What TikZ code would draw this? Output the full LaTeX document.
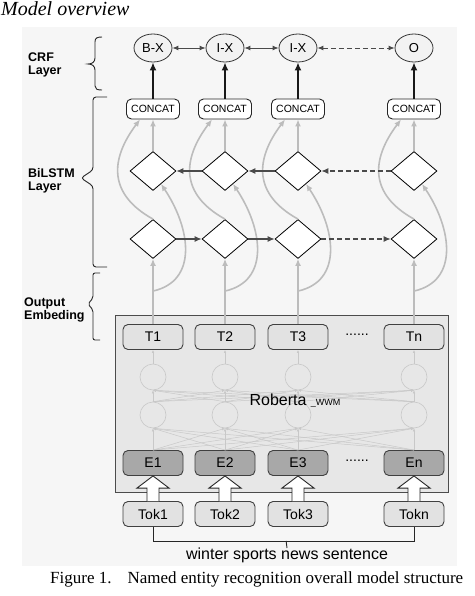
\documentclass[tikz,border=0pt]{standalone}
\usepackage{fontspec}
\setmainfont{Liberation Serif}
\setsansfont{Liberation Sans}
\usetikzlibrary{arrows.meta,shapes.geometric,calc}
\definecolor{bgc}{HTML}{F6F6F6}
\definecolor{robc}{HTML}{E7E7E7}
\definecolor{eboxc}{HTML}{A8A8A8}
\definecolor{tboxc}{HTML}{E2E2E2}
\definecolor{garr}{HTML}{BCBCBC}
\definecolor{darr}{HTML}{4A4A4A}
\definecolor{netc}{HTML}{C8C8C8}
\tikzset{
 fs/.style={font=\sffamily\fontsize{#1}{#1}\selectfont},
 crfnode/.style={ellipse, draw=black!80, fill=black!5, line width=0.8pt, minimum width=38pt, minimum height=28pt, inner sep=0, fs=13},
 concat/.style={rectangle, rounded corners=5pt, draw=black!85, fill=white, line width=0.9pt, minimum width=53pt, minimum height=20pt, inner sep=0, fs=10.5},
 lstm/.style={diamond, draw=black, fill=white, line width=0.8pt, minimum width=46pt, minimum height=39pt, inner sep=0},
 tokbox/.style={rectangle, rounded corners=5pt, draw=black!75, line width=0.9pt, minimum width=60pt, minimum height=25pt, inner sep=0, fs=14},
 neuron/.style={circle, draw=netc, line width=0.6pt, minimum size=26pt, inner sep=0},
 layerlabel/.style={anchor=west, align=left, font=\sffamily\bfseries\fontsize{12.5}{13.5}\selectfont, inner sep=0},
 thickarr/.style={-{Latex[length=8pt,width=7pt]}, line width=1.8pt, black!90},
 crfarr/.style={{Latex[length=6pt,width=5pt]}-{Latex[length=6pt,width=5pt]}, line width=0.9pt, darr},
 lstmarr/.style={-{Latex[length=7pt,width=6pt]}, line width=1.1pt, darr},
 grayarr/.style={-{Latex[length=7pt,width=6pt]}, line width=1.6pt, garr},
 netarr/.style={-{Latex[length=3pt,width=2.5pt]}, line width=0.5pt, netc},
 brak/.style={line width=0.9pt, black!85},
 blockarr/.style={draw=black!85, fill=white, line width=0.9pt, line join=miter},
 dsh/.style={dash pattern=on 5pt off 3pt},
}
\begin{document}
\begin{tikzpicture}[x=1pt,y=-1pt]
\useasboundingbox (0,0) rectangle (474,596);
\fill[bgc] (22,27) rectangle (457,566);

\node[anchor=base west, inner sep=0, font=\rmfamily\itshape\fontsize{20}{20}\selectfont] (title) at (1,16) {Model overview};
\node[anchor=base west, inner sep=0, font=\rmfamily\fontsize{17}{17}\selectfont] (caption) at (50,583) {Figure 1.\hspace{16pt}Named entity recognition overall model structure};

% layer labels
\node[layerlabel] (crflab) at (28,65) {CRF\\Layer};
\node[layerlabel] (bilab) at (28,181) {BiLSTM\\Layer};
\node[layerlabel] (outlab) at (24,310) {Output\\Embeding};

% braces
\draw[brak] (102,37) .. controls (97,37) and (95,38) .. (95,42) -- (95,58) .. controls (95,62) and (92,64) .. (88,64) .. controls (92,64) and (95,66) .. (95,70) -- (95,86) .. controls (95,89) and (97,90) .. (102,90);
\draw[brak, rounded corners=3pt] (107,97) -- (93,97) -- (93,170) -- (81,178) -- (93,186) -- (93,267) -- (107,267);
\draw[brak, rounded corners=2pt] (100,273) -- (93,273) -- (93,298) -- (88,304) -- (93,310) -- (93,340) -- (100,340);

% Roberta box
\node[draw=black!70, fill=robc, line width=1pt, minimum width=333pt, minimum height=177pt, inner sep=0] (rob) at (281.5,403.5) {};

\foreach \i/\x/\lab/\tl in {1/153/B-X/1, 2/225/I-X/2, 3/298/I-X/3, 4/414/O/n} {
 \node[crfnode] (crf\i) at (\x,48) {\lab};
 \node[concat] (c\i) at (\x,109) {CONCAT};
 \node[lstm] (u\i) at (\x,171) {};
 \node[lstm] (l\i) at (\x,239) {};
 \node[tokbox, fill=tboxc] (t\i) at (\x,337) {T\tl};
 \node[neuron] (p\i) at (\x,377) {};
 \node[neuron] (q\i) at (\x,415) {};
 \node[tokbox, fill=eboxc] (e\i) at (\x,463) {E\tl};
 \node[tokbox, fill=tboxc] (k\i) at (\x,514) {Tok\tl};
}
\node[fs=14, inner sep=0] (tdots) at (357,335) {......};
\node[fs=14, inner sep=0] (edots) at (357,461) {......};

% network inside Roberta
\foreach \i in {1,...,4} {
 \foreach \j in {1,...,4} {
  \draw[netarr] (e\i.north) -- (q\j.south);
  \draw[netarr] (q\i.north) -- (p\j.south);
 }
 \draw[netarr] (p\i.north) -- (t\i.south);
}
\node[fs=16, inner sep=1pt] (roblab) at (295,401) {Roberta \raisebox{0pt}{\fontsize{9}{9}\selectfont\_WWM}};

% block arrows
\foreach \i in {1,...,4} {
 \draw[blockarr] ($(k\i.north)+(-6,0)$) -- ++(0,-13) -- ++(-10,0) -- (e\i.south) -- ($(k\i.north)+(16,-13)$) -- ++(-10,0) -- ($(k\i.north)+(6,0)$);
}

% gray connectors
\foreach \i in {1,...,4} {
 \draw[grayarr] (t\i.north) -- (l\i.south);
 \draw[grayarr] (u\i.north) -- (c\i.south);
 \draw[grayarr] (l\i.north) .. controls +(-45,-25) and +(-30,40) .. ($(c\i.south)+(-13,0)$);
 \draw[grayarr] ($(t\i.north)+(0,-33)$) .. controls +(45,-10) and +(30,45) .. ($(u\i.south)+(8,-7)$);
 \draw[thickarr] (c\i.north) -- (crf\i.south);
}

% CRF transitions
\draw[crfarr] (crf1.east) -- (crf2.west);
\draw[crfarr] (crf2.east) -- (crf3.west);
\draw[crfarr, dsh] (crf3.east) -- (crf4.west);

% LSTM transitions
\draw[lstmarr] (u2.west) -- (u1.east);
\draw[lstmarr] (u3.west) -- (u2.east);
\draw[lstmarr, dsh] (u4.west) -- (u3.east);
\draw[lstmarr] (l1.east) -- (l2.west);
\draw[lstmarr] (l2.east) -- (l3.west);
\draw[lstmarr, dsh] (l3.east) -- (l4.west);

% sentence bracket
\draw[brak] (k1.south) -- ++(0,14) -| (k4.south);
\node[fs=16, inner sep=0, anchor=north] (sent) at (287,548) {winter sports news sentence};
\coordinate (bm) at ($(k1.south)!0.51!(k4.south)+(0,14)$);
\draw[brak] (bm) -- (sent.north);
\end{tikzpicture}
\end{document}
